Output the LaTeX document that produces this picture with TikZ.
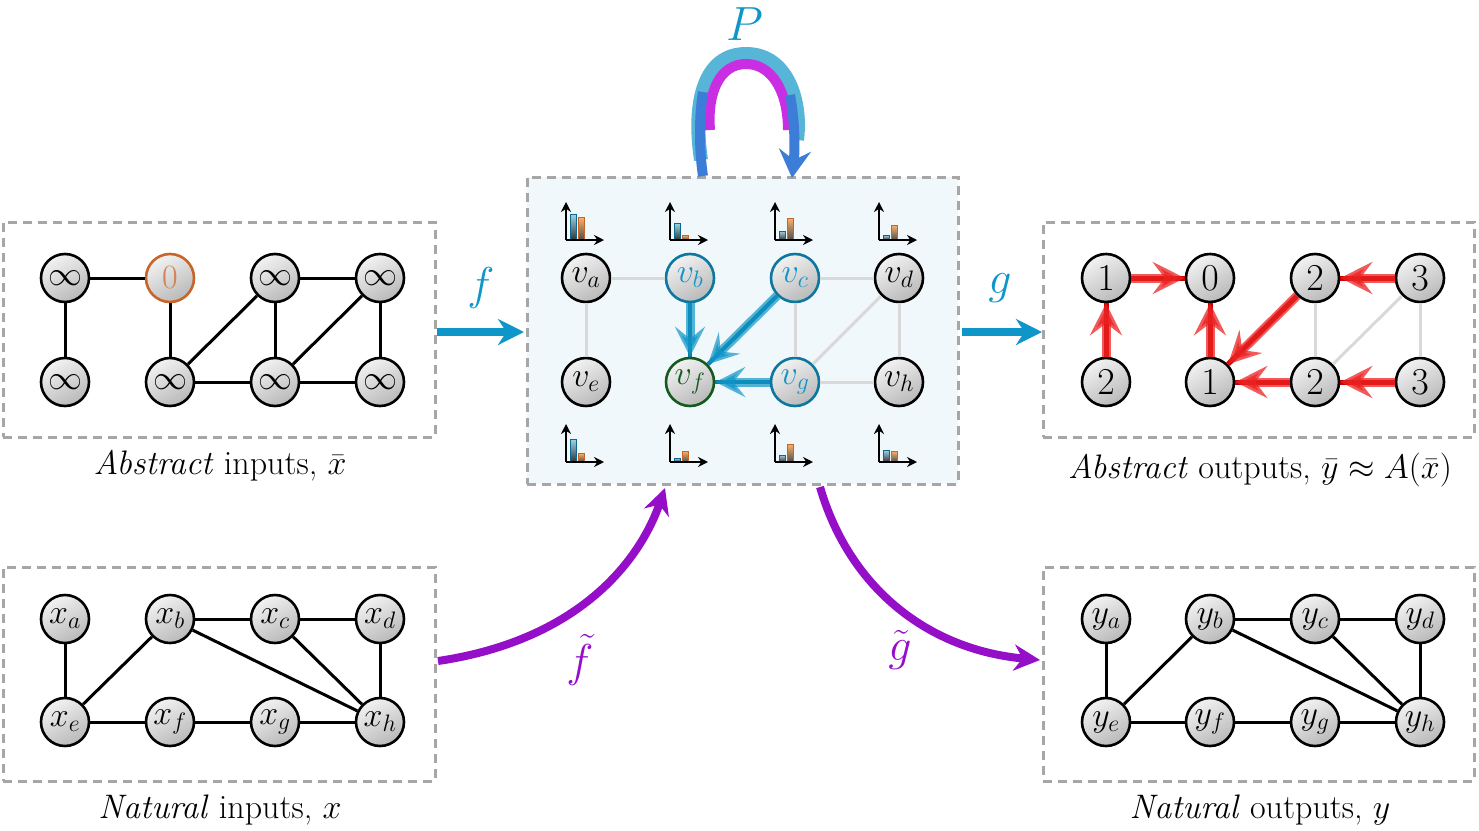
\documentclass[tikz,border=0pt]{standalone}
\usepackage{fix-cm}
\usepackage{fontspec}
\usetikzlibrary{arrows.meta}
\definecolor{cb}{RGB}{15,150,200}
\definecolor{pb}{RGB}{60,125,215}
\definecolor{pu}{RGB}{150,15,200}
\definecolor{rd}{RGB}{235,35,35}
\definecolor{dr}{RGB}{200,0,0}
\definecolor{org}{RGB}{200,100,40}
\definecolor{gn}{RGB}{20,90,30}
\definecolor{bg}{RGB}{240,248,251}
\begin{document}
\begin{tikzpicture}[x=1pt,y=-1pt,
 nd/.style={circle,draw=black,line width=2.6pt,minimum size=48pt,inner sep=0pt,top color=gray!10,bottom color=gray!55,shading angle=30,font=\fontsize{34}{34}\selectfont},
 box/.style={draw=gray!70,dashed,dash pattern=on 9pt off 6pt,line width=3pt},
 ed/.style={line width=3pt},
 le/.style={line width=3pt,gray!30},
 lab/.style={font=\fontsize{34}{34}\selectfont},
 bigarr/.style={line width=8pt,-{Stealth[length=26pt,width=26pt]}},
 ra/.style={line width=5pt,dr},
 rao/.style={line width=9pt,rd,opacity=.75,-{Stealth[length=32pt,width=32pt,inset=12pt]}},
 ba/.style={line width=4pt,cb!80!black},
 bao/.style={line width=9pt,cb,opacity=.7,-{Stealth[length=30pt,width=30pt,inset=12pt]}},
]
\useasboundingbox (0,0) rectangle (1479,830);
% boxes
\node[box,minimum width=432pt,minimum height=215pt,inner sep=0pt] (bai) at (219,329.5) {};
\node[box,fill=bg,minimum width=431pt,minimum height=307pt,inner sep=0pt] (bc) at (742.5,330.5) {};
\node[box,minimum width=431pt,minimum height=215pt,inner sep=0pt] (bao) at (1258.5,329.5) {};
\node[box,minimum width=432pt,minimum height=214pt,inner sep=0pt] (bni) at (219,674) {};
\node[box,minimum width=431pt,minimum height=214pt,inner sep=0pt] (bno) at (1258.5,674) {};
\node[lab] at (220,466) {\textit{Abstract} inputs, $\bar{x}$};
\node[lab] at (1260,470) {\textit{Abstract} outputs, $\bar{y}\approx A(\bar{x})$};
\node[lab] at (220,810) {\textit{Natural} inputs, $x$};
\node[lab] at (1260,810) {\textit{Natural} outputs, $y$};

% abstract inputs
\foreach \n/\x/\y/\t in {a/65/278/\infty,c/275/278/\infty,d/380/278/\infty,e/65/382/\infty,f/170/382/\infty,g/275/382/\infty,h/380/382/\infty}
 \node[nd] (i\n) at (\x,\y) {$\t$};
\node[nd,draw=org,text=org!80] (ib) at (170,278) {$0$};
\foreach \p/\q in {a/b,a/e,b/f,c/d,c/g,d/h,f/c,f/g,g/h,g/d} \draw[ed] (i\p)--(i\q);

% centre
\foreach \n/\x/\y in {a/586/278,d/899/278,e/586/382,h/899/382}
 \node[nd] (c\n) at (\x,\y) {$v_\n$};
\node[nd,draw=cb!80!black,text=cb] (cb) at (690,278) {$v_b$};
\node[nd,draw=cb!80!black,text=cb] (cc) at (795,278) {$v_c$};
\node[nd,draw=cb!80!black,text=cb] (cg) at (795,382) {$v_g$};
\node[nd,draw=gn,text=gn] (cf) at (690,382) {$v_f$};
\foreach \p/\q in {a/b,a/e,c/d,c/g,d/h,g/d,g/h} \draw[le] (c\p)--(c\q);
\foreach \p in {b,c,g}{\draw[ba] (c\p)--(cf); \draw[bao] (c\p)--(cf);}
% histograms
\foreach \x/\y/\ba/\bb in {566/240/26/23,670/240/17/5,775/240/9/22,879/240/5/15,566/462/23/9,670/462/4/11,775/462/7/18,879/462/12/11}{
 \fill[top color=cb!40,bottom color=black!80] (\x+4,\y) rectangle ++(6,-\ba);
 \draw[cb!70!black,line width=.6pt] (\x+4,\y) rectangle ++(6,-\ba);
 \fill[top color=orange!60,bottom color=black!70] (\x+12,\y) rectangle ++(6,-\bb);
 \draw[org,line width=.6pt] (\x+12,\y) rectangle ++(6,-\bb);
 \draw[line width=2.2pt,-{Stealth[length=10pt,width=10pt]}] (\x,\y)--(\x,\y-38);
 \draw[line width=2.2pt,-{Stealth[length=10pt,width=10pt]}] (\x,\y)--(\x+38,\y);
}

% abstract outputs
\foreach \n/\x/\y/\t in {a/1106/278/1,b/1210/278/0,c/1315/278/2,d/1420/278/3,e/1106/382/2,f/1210/382/1,g/1315/382/2,h/1420/382/3}
 \node[nd,font=\fontsize{38}{38}\selectfont] (o\n) at (\x,\y) {$\t$};
\foreach \p/\q in {c/g,d/h,g/d} \draw[le] (o\p)--(o\q);
\foreach \p/\q in {a/b,e/a,f/b,c/f,d/c,g/f,h/g}{\draw[ra] (o\p)--(o\q); \draw[rao] (o\p)--(o\q);}

% natural
\foreach \n/\x/\y in {a/65/619,b/170/619,c/275/619,d/380/619,e/65/722,f/170/722,g/275/722,h/380/722}
 \node[nd] (n\n) at (\x,\y) {$x_\n$};
\foreach \n/\x/\y in {a/1106/619,b/1210/619,c/1315/619,d/1420/619,e/1106/722,f/1210/722,g/1315/722,h/1420/722}
 \node[nd] (m\n) at (\x,\y) {$y_\n$};
\foreach \p/\q in {a/e,e/b,b/c,c/d,b/h,c/h,d/h,e/f,f/g,g/h}{\draw[ed] (n\p)--(n\q); \draw[ed] (m\p)--(m\q);}

% main arrows
\coordinate (fs) at (437,332); \coordinate (fe) at (524,332);
\coordinate (gs) at (962,332); \coordinate (ge) at (1042,332);
\draw[bigarr,cb] (fs)--(fe);
\draw[bigarr,cb] (gs)--(ge);
\node[cb,font=\fontsize{46}{46}\selectfont] at (481,288) {$f$};
\node[cb,font=\fontsize{46}{46}\selectfont] at (1000,288) {$g$};
\coordinate (ft1) at (438,661); \coordinate (ft2) at (665,488);
\coordinate (gt1) at (820,487); \coordinate (gt2) at (1040,660);
\draw[bigarr,pu] (ft1) .. controls (580,640) and (640,560) .. (ft2);
\draw[bigarr,pu] (gt1) .. controls (850,590) and (930,650) .. (gt2);
\node[pu,font=\fontsize{46}{46}\selectfont] at (580,660) {$\tilde{f}$};
\node[pu,font=\fontsize{46}{46}\selectfont] at (900,650) {$\tilde{g}$};

% P loop
\coordinate (p1) at (703,176); \coordinate (p2) at (792,178);
\draw[line width=14pt,cb!70] (701,160) .. controls (692,100) and (705,54) .. (746,54) .. controls (787,54) and (802,100) .. (797,140);
\draw[line width=10pt,pu!60!magenta!85] (710,130) .. controls (707,92) and (720,64) .. (746,64) .. controls (772,64) and (788,92) .. (788,130);
\draw[line width=10pt,pb] (p1) .. controls (699,150) and (699,115) .. (703,92);
\draw[line width=10pt,pb,-{Stealth[length=28pt,width=32pt,inset=10pt]}] (790,95) .. controls (795,120) and (795,150) .. (p2);
\node[cb,font=\fontsize{48}{48}\selectfont] at (745,24) {$P$};
\end{tikzpicture}
\end{document}
